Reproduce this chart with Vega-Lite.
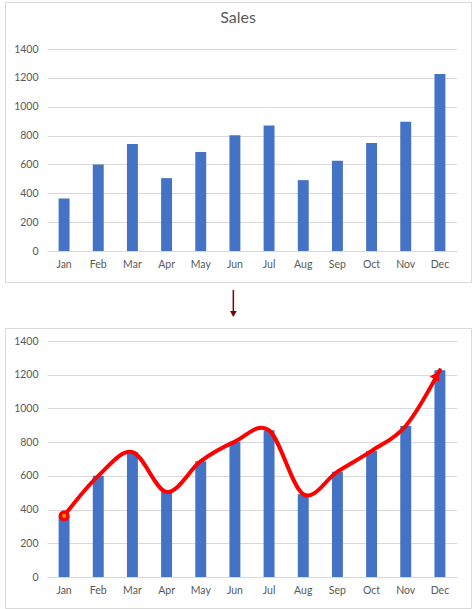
{
  "$schema": "https://vega.github.io/schema/vega-lite/v6.json",
  "padding": {"left": 4, "top": 1, "right": 0, "bottom": 0},
  "background": "white",
  "spacing": 0,
  "config": {
    "font": "Lato",
    "view": {"stroke": "#d9d9d9", "strokeWidth": 1},
    "axis": {"labelColor": "#595959", "labelFontSize": 10.5, "labelFont": "Lato"}
  },
  "datasets": {
    "sales": [
      {"month": "Jan", "sales": 363},
      {"month": "Feb", "sales": 600},
      {"month": "Mar", "sales": 741},
      {"month": "Apr", "sales": 505},
      {"month": "May", "sales": 687},
      {"month": "Jun", "sales": 803},
      {"month": "Jul", "sales": 870},
      {"month": "Aug", "sales": 491},
      {"month": "Sep", "sales": 625},
      {"month": "Oct", "sales": 748},
      {"month": "Nov", "sales": 896},
      {"month": "Dec", "sales": 1227}
    ]
  },
  "vconcat": [
    {
      "width": 466,
      "height": 280,
      "title": {"text": "Sales", "fontSize": 16, "fontWeight": "normal", "color": "#595959", "font": "Lato", "anchor": "middle", "frame": "group", "baseline": "middle", "offset": -32},
      "data": {"name": "sales"},
      "mark": {"type": "bar", "color": "#4472C4"},
      "encoding": {
        "x": {"field": "month", "type": "nominal", "sort": null,
          "scale": {"range": [42, 452], "paddingInner": 0.68, "paddingOuter": 0.34},
          "axis": {"title": null, "orient": "bottom", "offset": -31, "domainColor": "#d9d9d9", "ticks": false, "labelPadding": 8, "labelAngle": 0, "grid": false}},
        "y": {"field": "sales", "type": "quantitative",
          "scale": {"domain": [0, 1400], "range": [249, 47], "nice": false},
          "axis": {"title": null, "offset": -42, "domain": false, "ticks": false, "format": "d", "values": [0, 200, 400, 600, 800, 1000, 1200, 1400], "gridColor": "#d9d9d9", "labelPadding": 9}}
      }
    },
    {
      "width": 466,
      "height": 44,
      "view": {"stroke": null},
      "data": {"values": [{}]},
      "layer": [
        {
          "mark": {"type": "rule", "color": "#7f0000", "strokeWidth": 1.5},
          "encoding": {
            "x": {"datum": 0.49, "type": "quantitative", "scale": {"domain": [0, 1]}, "axis": null},
            "y": {"datum": 37, "type": "quantitative", "scale": {"domain": [0, 44]}, "axis": null},
            "y2": {"datum": 14}
          }
        },
        {
          "mark": {"type": "point", "shape": "triangle-down", "filled": true, "color": "#7f0000", "size": 45, "opacity": 1},
          "encoding": {
            "x": {"datum": 0.49, "type": "quantitative", "scale": {"domain": [0, 1]}, "axis": null},
            "y": {"datum": 13, "type": "quantitative", "scale": {"domain": [0, 44]}, "axis": null}
          }
        }
      ]
    },
    {
      "width": 466,
      "height": 280,
      "data": {"name": "sales"},
      "encoding": {
        "x": {"field": "month", "type": "nominal", "sort": null,
          "scale": {"range": [42, 452], "paddingInner": 0.68, "paddingOuter": 0.34},
          "axis": {"title": null, "orient": "bottom", "offset": -31, "domainColor": "#d9d9d9", "ticks": false, "labelPadding": 8, "labelAngle": 0, "grid": false}},
        "y": {"field": "sales", "type": "quantitative",
          "scale": {"domain": [0, 1400], "range": [249, 13], "nice": false},
          "axis": {"title": null, "offset": -42, "domain": false, "ticks": false, "format": "d", "values": [0, 200, 400, 600, 800, 1000, 1200, 1400], "gridColor": "#d9d9d9", "labelPadding": 9}}
      },
      "layer": [
        {"mark": {"type": "bar", "color": "#4472C4"}},
        {"mark": {"type": "line", "color": "#ff0000", "strokeWidth": 4, "interpolate": "cardinal", "strokeCap": "round"}},
        {
          "transform": [{"filter": "datum.month == 'Jan'"}],
          "mark": {"type": "point", "shape": "circle", "filled": true, "fill": "#ff9900", "stroke": "#ff0000", "strokeWidth": 3.5, "size": 55, "opacity": 1}
        },
        {
          "transform": [{"filter": "datum.month == 'Dec'"}],
          "mark": {"type": "point", "shape": "triangle-up", "filled": true, "color": "#ff0000", "size": 120, "angle": 31, "opacity": 1, "yOffset": 5, "xOffset": -3}
        }
      ]
    }
  ]
}
